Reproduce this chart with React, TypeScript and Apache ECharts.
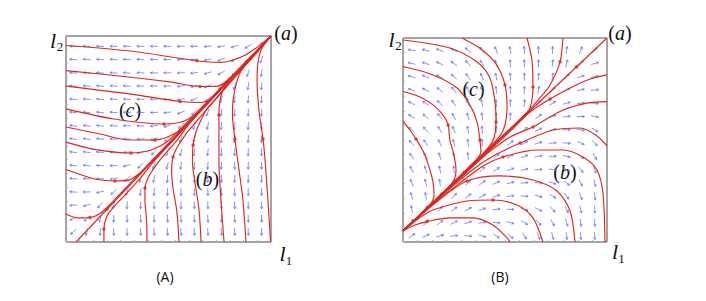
import React, { useEffect, useRef } from "react";
import * as echarts from "echarts";

// ---------- Panel A trajectories (data units 0..100) ----------
const A_C1 = [[0,95.4],[31.2,92.7],[63.9,88.0],[75.1,87.2],[86.8,90.4],[96.6,97.1],[100,100]];
const A_C2 = [[0,83.2],[31.6,80.0],[50.7,77.7],[65.4,75.5],[74.1,75.7],[81.0,80.6],[89.8,89.6],[100,100]];
const A_C3 = [[0,75.7],[31.6,71.8],[55.6,68.2],[65.4,67.7],[71.2,69.9],[80.0,79.4],[100,100]];
const A_C4 = [[0,64.6],[23.4,59.7],[47.8,57.3],[57.6,58.7],[65.4,64.1],[100,100]];
const A_C5 = [[0,55.8],[16.6,52.4],[31.2,49.5],[43.4,49.5],[51.7,51.9],[58.0,56.3],[100,100]];
const A_C6 = [[0,48.5],[15.1,44.7],[31.7,43.2],[40.0,44.2],[45.9,46.6],[50.7,49.8],[100,100]];
const A_C7 = [[0,35.2],[14.1,30.6],[23.9,29.6],[31.2,30.3],[36.1,33.5],[41.0,38.3],[100,100]];
const A_C8 = [[0,13.6],[5.9,11.7],[11.7,11.9],[16.6,13.8],[22.4,19.2],[100,100]];
const A_DIAG = [[4.9,0],[100,100]];
const A_B1 = [[18.5,0],[18.5,6.3],[20.0,12.6],[23.4,17.2],[29.8,23.8],[37.1,32.0],[43.4,39.8],[100,100]];
const A_B2 = [[39.5,0],[39.3,10.7],[38.5,20.4],[38.5,26.2],[40.0,31.1],[42.9,35.9],[47.8,42.2],[53.7,48.8],[60.5,57.8],[100,100]];
const A_B3 = [[55.1,0],[54.1,14.6],[52.2,26.2],[51.5,35.0],[52.2,41.3],[54.6,46.6],[58.5,52.4],[63.4,58.3],[100,100]];
const A_B4 = [[65.9,0],[64.9,15.5],[62.9,29.1],[61.7,38.8],[62.0,47.1],[63.4,53.4],[65.9,59.2],[68.8,64.6],[100,100]];
const A_B5 = [[77.1,0],[75.6,20.4],[74.6,39.8],[74.6,50.0],[74.6,61.7],[75.1,68.4],[76.6,73.8],[79.5,77.7],[82.9,81.6],[100,100]];
const A_B6 = [[87.8,0],[86.3,20.4],[84.4,35.0],[82.4,50.0],[81.2,61.7],[81.5,68.9],[82.9,76.2],[85.4,83.0],[90.7,89.3],[96.6,95.9],[100,100]];
const A_B7 = [[99.8,0],[98.5,20.4],[97.1,39.8],[96.1,50.0],[94.1,64.1],[93.2,78.6],[93.7,87.4],[95.6,94.2],[100,100]];
const A_MARKS = [[63.9,88.0],[65.4,75.5],[55.6,68.2],[47.8,57.3],[43.4,49.5],[31.7,43.2],[23.9,29.6],[11.7,11.9],[18.5,6.3],[38.5,26.2],[52.2,41.3],[62.0,47.1],[74.6,61.7],[82.4,50.0],[96.1,50.0],[20,16]];

// ---------- Panel B trajectories ----------
const B_U1 = [[0,59.3],[3.4,54.9],[6.4,50.5],[10.3,43.6],[13.2,35.3],[14.7,29.4],[15.2,23.0],[13.2,18.1],[7.4,12.5],[0,5.4]];
const B_U2 = [[0,73.8],[8.3,71.1],[14.7,67.2],[19.6,62.3],[22.1,57.4],[23.0,50.0],[25.0,42.6],[26.0,35.3],[24.0,28.7],[10.8,15.9],[0,5.4]];
const B_U3 = [[0,86.0],[14.7,81.9],[26.5,75.5],[32.8,67.2],[36.3,58.8],[37.7,50.0],[38.2,44.1],[32.8,37.3],[18.1,22.8],[0,5.4]];
const B_U4 = [[0,99.0],[23.0,95.1],[36.3,88.2],[42.6,80.4],[45.1,68.6],[45.6,58.8],[44.6,51.0],[41.7,46.1],[30.4,34.1],[0,5.4]];
const B_T1 = [[28.9,100],[38.2,94.6],[45.6,87.3],[50.0,77.0],[51.0,65.7],[50.0,57.4],[47.5,52.0],[37.7,41.7],[0,5.4]];
const B_T2 = [[60.8,100],[63.2,89.2],[63.7,76.0],[62.3,65.7],[59.3,62.0],[50.0,53.2],[0,5.4]];
const B_T3 = [[78.4,100],[77.0,88.4],[72.1,77.0],[66.2,69.6],[61.3,64.0],[52.5,55.1],[0,5.4]];
const B_DIAG = [[0,5.4],[100,100]];
const B_RA = [[0,5.4],[37.7,40.4],[52.5,54.2],[62.3,63.7],[72.1,70.1],[81.9,75.5],[91.7,79.9],[100,81.9]];
const B_RB = [[0,5.4],[32.8,35.8],[42.6,44.4],[52.5,51.5],[63.7,56.4],[78.4,64.7],[90.2,68.1],[100,68.8]];
const B_RC = [[0,5.4],[23.0,26.2],[35.3,36.3],[45.1,42.6],[57.4,48.5],[73.5,54.9],[86.8,55.9],[95.1,52.0],[100,47.1]];
const B_RD = [[0,5.4],[18.1,21.3],[27.9,28.9],[39.2,37.3],[49.0,41.7],[65.7,45.1],[78.4,45.1],[88.2,41.7],[95.1,35.3],[98.0,24.0],[99.0,0]];
const B_L3 = [[0,5.4],[15.7,19.1],[31.4,29.9],[47.5,32.4],[63.7,30.4],[75.5,25.0],[81.9,15.2],[84.3,0]];
const B_L2 = [[0,5.4],[8.3,12.0],[14.7,15.7],[31.4,20.1],[44.1,20.6],[55.9,18.1],[63.7,11.8],[68.6,0]];
const B_L1 = [[0,5.4],[5.9,8.3],[11.8,10.0],[23.0,11.8],[34.3,11.8],[44.1,8.3],[51.0,2.0],[52.5,0]];
const B_MARKS = [[6.4,50.5],[22.1,57.4],[37.7,50.0],[45.6,58.8],[50.0,77.0],[63.7,76.0],[77.0,88.4],[85,85.8],[72.1,70.1],[63.7,56.4],[57.4,48.5],[49.0,41.7],[31.4,29.9],[44.1,20.6],[11.8,10.0],[30,34]];

// ---------- Direction field (angles in degrees) ----------
const A_ARROW_X = [3.6,10.2,16.7,23.3,29.8,36.4,43,49.5,56.1,62.6,69.2,75.8,82.3,88.9,95.4];
const A_ARROW_Y = [95,88.6,82.1,75.7,69.3,62.9,56.4,50,43.6,37.1,30.7,24.3,17.9,11.4,5];
const A_ANGLES = [
  [176,176,176,177,177,178,178,179,180,182,185,190,198,210,228],
  [175,175,176,176,177,177,178,180,182,186,192,200,210,225,250],
  [175,175,175,176,176,177,178,180,183,188,196,208,225,250,262],
  [174,174,175,175,176,177,179,182,186,193,205,225,250,262,265],
  [174,174,175,175,176,178,180,184,190,202,225,250,262,266,268],
  [173,174,174,175,177,179,182,188,200,225,250,260,265,267,268],
  [173,173,174,175,177,180,186,198,225,250,258,263,265,267,268],
  [172,173,174,176,179,184,196,225,250,257,262,264,266,268,268],
  [172,173,175,178,183,194,225,250,256,261,264,266,267,268,269],
  [172,174,177,182,192,225,250,257,262,265,267,268,269,269,270],
  [173,176,181,191,225,250,258,264,267,268,269,270,270,270,270],
  [176,181,192,225,252,262,267,270,271,271,271,271,271,271,271],
  [185,196,225,255,266,270,272,272,272,272,272,272,272,272,271],
  [205,225,258,268,272,273,273,273,273,273,273,273,273,272,271],
  [225,255,268,272,273,274,274,274,274,274,274,274,273,272,271],
];
const B_ARROW_X = [4.3,11.2,18.1,25,31.9,38.8,45.7,52.6,59.5,66.4,73.3,80.2,87.1,94];
const B_ARROW_Y = [94,87.5,81,74.5,68,61.5,55,48.5,42,35.5,29,22.5,16,9.5,3];
const B_ANGLES = [
  [170,165,160,150,140,125,110,100,95,92,88,82,70,48],
  [168,162,155,145,132,120,105,96,92,88,84,75,48,15],
  [165,158,150,138,125,112,100,94,90,86,80,48,20,10],
  [160,152,142,130,118,106,97,92,88,82,50,25,12,5],
  [155,147,136,124,112,102,95,90,85,52,30,15,5,-5],
  [148,140,130,118,107,98,93,88,53,35,20,8,0,-10],
  [140,132,122,112,102,95,90,55,38,25,12,2,-10,-30],
  [132,124,115,105,97,92,58,40,28,17,6,-5,-22,-45],
  [125,117,108,100,94,60,42,30,20,10,0,-12,-35,-60],
  [118,110,102,96,62,45,32,22,12,3,-8,-25,-50,-70],
  [112,104,97,65,47,35,25,15,5,-5,-18,-40,-62,-78],
  [106,98,68,48,37,27,17,7,-3,-14,-32,-55,-72,-82],
  [100,70,50,38,28,18,8,-2,-14,-28,-48,-66,-78,-85],
  [72,50,38,28,18,8,-4,-16,-30,-46,-62,-74,-82,-87],
  [35,25,15,5,-6,-18,-32,-46,-58,-68,-76,-82,-86,-88],
];

const RED = "#e2241c";
const BLUE = "#6470ea";

function fieldData(xs: number[], ys: number[], ang: number[][]) {
  const out: number[][] = [];
  ys.forEach((y, r) => xs.forEach((x, c) => out.push([x, y, ang[r][c]])));
  return out;
}

function arrowRender(_p: any, api: any) {
  const a = (api.value(2) * Math.PI) / 180;
  const c = api.coord([api.value(0), api.value(1)]);
  const L = 7.5;
  const ux = Math.cos(a), uy = -Math.sin(a);
  const hx = c[0] + (ux * L) / 2, hy = c[1] + (uy * L) / 2;
  const tx = c[0] - (ux * L) / 2, ty = c[1] - (uy * L) / 2;
  const hl = 2.6, ha = 0.5;
  const rot = (s: number) => [
    hx - hl * (ux * Math.cos(s) - uy * Math.sin(s)),
    hy - hl * (uy * Math.cos(s) + ux * Math.sin(s)),
  ];
  return {
    type: "group",
    children: [
      { type: "line", shape: { x1: tx, y1: ty, x2: hx, y2: hy }, style: { stroke: BLUE, lineWidth: 0.75 } },
      { type: "polyline", shape: { points: [rot(ha), [hx, hy], rot(-ha)] }, style: { stroke: BLUE, lineWidth: 0.75, fill: null } },
    ],
  };
}

function curve(data: number[][], idx: number) {
  return {
    type: "line", xAxisIndex: idx, yAxisIndex: idx, data, smooth: 0.3,
    showSymbol: false, symbol: "none", silent: true, z: 3,
    lineStyle: { color: RED, width: 1.15 },
  };
}

function axis(idx: number, n: number) {
  return {
    gridIndex: idx, type: "value", min: 0, max: 100, interval: 100 / n,
    axisLabel: { show: false }, splitLine: { show: false }, axisLine: { show: false },
    axisTick: { show: true, inside: true, length: 2, lineStyle: { color: "#b0b0b0" } },
  };
}

const serif = "Liberation Serif";
function txt(x: number, y: number, text: string, size: number, italic = true, family = serif) {
  return {
    type: "text", x, y, silent: true,
    style: { text, fontSize: size, fontFamily: family, fontStyle: italic ? "italic" : "normal", fill: "#111", align: "center", verticalAlign: "middle" },
  };
}
function paren(x: number, y: number, letter: string) {
  return {
    type: "text", x, y, silent: true,
    style: {
      text: `{p|(}{i|${letter}}{p|)}`, align: "center", verticalAlign: "middle", fill: "#111",
      rich: {
        p: { fontSize: 20, fontFamily: serif, fill: "#111" },
        i: { fontSize: 20, fontFamily: serif, fontStyle: "italic", fill: "#111" },
      },
    },
  };
}

export default function App() {
  const ref = useRef<HTMLDivElement>(null);
  useEffect(() => {
    const chart = echarts.init(ref.current!, null, { renderer: "svg" });
    const aCurves = [A_C1, A_C2, A_C3, A_C4, A_C5, A_C6, A_C7, A_C8, A_DIAG, A_B1, A_B2, A_B3, A_B4, A_B5, A_B6, A_B7];
    const bCurves = [B_U1, B_U2, B_U3, B_U4, B_T1, B_T2, B_T3, B_DIAG, B_RA, B_RB, B_RC, B_RD, B_L3, B_L2, B_L1];
    chart.setOption({
      animation: false,
      backgroundColor: "#fff",
      grid: [
        { left: 66, top: 36, width: 205, height: 206, show: true, borderColor: "#4a4a4a", borderWidth: 1 },
        { left: 403, top: 38, width: 204, height: 204, show: true, borderColor: "#4a4a4a", borderWidth: 1 },
      ],
      xAxis: [axis(0, 15), axis(1, 14)],
      yAxis: [axis(0, 15), axis(1, 14)],
      series: [
        { type: "custom", xAxisIndex: 0, yAxisIndex: 0, renderItem: arrowRender, data: fieldData(A_ARROW_X, A_ARROW_Y, A_ANGLES), silent: true, z: 2, clip: true },
        { type: "custom", xAxisIndex: 1, yAxisIndex: 1, renderItem: arrowRender, data: fieldData(B_ARROW_X, B_ARROW_Y, B_ANGLES), silent: true, z: 2, clip: true },
        ...aCurves.map((d) => curve(d, 0)),
        ...bCurves.map((d) => curve(d, 1)),
        { type: "scatter", xAxisIndex: 0, yAxisIndex: 0, data: A_MARKS, symbolSize: 3.5, itemStyle: { color: RED }, silent: true, z: 4 },
        { type: "scatter", xAxisIndex: 1, yAxisIndex: 1, data: B_MARKS, symbolSize: 3.5, itemStyle: { color: RED }, silent: true, z: 4 },
      ],
      graphic: [
        txt(53, 40, "l", 22), txt(60, 46.5, "2", 13, false),
        txt(282.5, 253, "l", 22), txt(289, 260, "1", 13, false),
        paren(286, 32.5, "a"), paren(130, 110, "c"), paren(207.5, 178.5, "b"),
        txt(391.5, 39, "l", 22), txt(398.5, 45.5, "2", 13, false),
        txt(615, 251, "l", 22), txt(621.5, 258, "1", 13, false),
        paren(620, 32.5, "a"), paren(473.5, 88.5, "c"), paren(565, 171.5, "b"),
        txt(165, 276.5, "(A)", 14, false, "Open Sans"),
        txt(500, 276.5, "(B)", 14, false, "Open Sans"),
      ],
    });
    return () => chart.dispose();
  }, []);
  return <div ref={ref} style={{ position: "fixed", left: 0, top: 0, width: 706, height: 301, background: "#fff" }} />;
}
